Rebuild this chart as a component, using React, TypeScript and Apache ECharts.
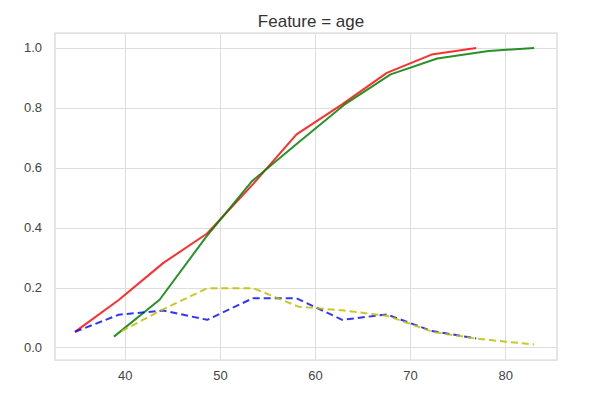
import * as echarts from 'echarts';
import { useEffect, useRef } from 'react';

// red (solid) and blue (dashed) share the same ages
const ageA = [34.7, 39.3, 44.0, 48.6, 53.4, 58.0, 62.8, 67.5, 72.2, 76.9];
const redValues = [0.053, 0.159, 0.283, 0.381, 0.545, 0.712, 0.812, 0.917, 0.978, 1.0];
const blueValues = [0.053, 0.11, 0.124, 0.093, 0.165, 0.165, 0.093, 0.111, 0.056, 0.031];

// green (solid)
const ageG = [38.8, 43.6, 48.5, 53.3, 58.2, 63.0, 67.9, 72.8, 78.2, 83.0];
const greenValues = [0.037, 0.16, 0.37, 0.555, 0.685, 0.81, 0.912, 0.965, 0.99, 1.0];

// yellow (dashed)
const ageY = [39.6, 43.7, 48.6, 53.5, 58.2, 63.0, 67.6, 72.4, 76.6, 80.0, 83.0];
const yellowValues = [0.055, 0.124, 0.198, 0.198, 0.137, 0.124, 0.106, 0.052, 0.032, 0.02, 0.011];

const xTicks = [40, 50, 60, 70, 80];
const yTicks = [0, 0.2, 0.4, 0.6, 0.8, 1.0];

const pairs = (xs: number[], ys: number[]) => xs.map((x, i) => [x, ys[i]]);

const FONT = '"Liberation Sans", Arial, sans-serif';

export default function App() {
  const chartRef = useRef<HTMLDivElement>(null);

  useEffect(() => {
    if (!chartRef.current) return;
    const chart = echarts.init(chartRef.current, undefined, { renderer: 'svg' });

    const line = (name: string, data: number[][], color: string, dashed: boolean) => ({
      name,
      type: 'line' as const,
      data,
      showSymbol: false,
      symbol: 'none',
      lineStyle: { color, width: 2, type: dashed ? [7, 4] : 'solid' },
    });

    const option: echarts.EChartsOption = {
      animation: false,
      backgroundColor: '#ffffff',
      textStyle: { fontFamily: FONT },
      title: {
        text: 'Feature = age',
        left: 306,
        textAlign: 'center',
        top: 8,
        textStyle: { fontSize: 17, fontWeight: 'normal', color: '#333', fontFamily: FONT },
      },
      grid: {
        left: 55,
        right: 32,
        top: 33,
        bottom: 43,
        show: true,
        borderColor: '#d6d6d6',
        borderWidth: 1.25,
        containLabel: false,
      },
      xAxis: {
        type: 'value',
        min: 32.6,
        max: 85.4,
        axisLine: { show: false },
        axisTick: { show: false, customValues: xTicks },
        axisLabel: {
          customValues: xTicks,
          color: '#444',
          fontSize: 13,
          margin: 9,
          fontFamily: FONT,
        },
        splitLine: { show: true, lineStyle: { color: '#dedede', width: 1 } },
      },
      yAxis: {
        type: 'value',
        min: -0.041,
        max: 1.05,
        axisLine: { show: false },
        axisTick: { show: false, customValues: yTicks },
        axisLabel: {
          customValues: yTicks,
          color: '#444',
          fontSize: 13,
          margin: 13,
          fontFamily: FONT,
          formatter: (v: number) => v.toFixed(1),
        },
        splitLine: { show: true, lineStyle: { color: '#dedede', width: 1 } },
      },
      series: [
        line('red', pairs(ageA, redValues), 'rgba(255,0,0,0.82)', false),
        line('green', pairs(ageG, greenValues), 'rgba(0,128,0,0.85)', false),
        line('blue', pairs(ageA, blueValues), 'rgba(0,0,255,0.8)', true),
        line('yellow', pairs(ageY, yellowValues), 'rgba(191,191,0,0.85)', true),
      ],
    };

    chart.setOption(option);
    return () => {
      chart.dispose();
    };
  }, []);

  return (
    <div
      ref={chartRef}
      style={{ position: 'fixed', left: 0, top: 0, width: 589, height: 403 }}
    />
  );
}
